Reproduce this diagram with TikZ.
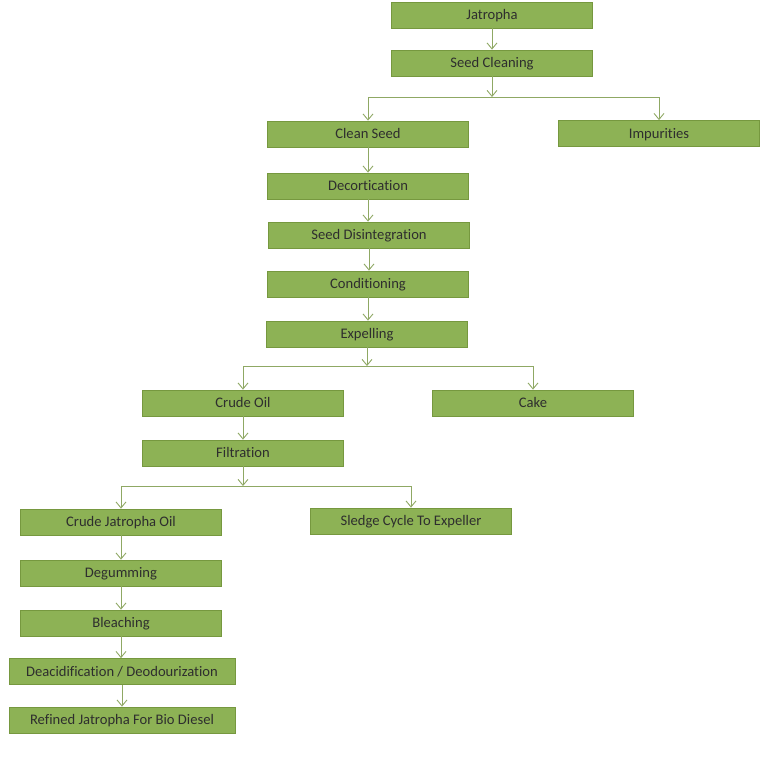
\documentclass[tikz,border=0pt]{standalone}
\usepackage{fontspec}
\setmainfont{Carlito}[Ligatures={NoCommon}]
\usetikzlibrary{arrows.meta}
\definecolor{boxfill}{HTML}{8DB255}
\definecolor{boxline}{HTML}{76983F}
\definecolor{linecol}{HTML}{8FA864}
\definecolor{txt}{HTML}{2E2E2E}
\begin{document}
\begin{tikzpicture}[x=1pt,y=-1pt,
  box/.style={draw=boxline, line width=0.8pt, fill=boxfill, text=txt, minimum height=26pt, inner sep=0pt, text height=11pt, text depth=1.6pt, font=\fontsize{14.6}{16}\selectfont},
  wbox/.style={box, minimum width=201pt},
  xbox/.style={box, minimum width=226pt},
  conn/.style={draw=linecol, line width=0.9pt},
  arr/.style={conn, -{Straight Barb[length=6pt,width=10pt]}}]
\useasboundingbox (0,0) rectangle (768,782);
\node[wbox] (jat) at (492,15) {Jatropha};
\node[wbox] (clean) at (492,63) {Seed Cleaning};
\node[wbox] (cseed) at (368,134) {Clean Seed};
\node[wbox] (imp) at (659,133.5) {Impurities};
\node[wbox] (deco) at (368,186) {Decortication};
\node[wbox] (dis) at (369,235) {Seed Disintegration};
\node[wbox] (cond) at (368,284) {Conditioning};
\node[wbox] (exp) at (367,334) {Expelling};
\node[wbox] (crude) at (243,403) {Crude Oil};
\node[wbox] (cake) at (533,403) {Cake};
\node[wbox] (filt) at (243,453) {Filtration};
\node[wbox] (cjo) at (121,522) {Crude Jatropha Oil};
\node[wbox] (sledge) at (411,521) {Sledge Cycle To Expeller};
\node[wbox] (degum) at (121,573) {Degumming};
\node[wbox] (bleach) at (121,623) {Bleaching};
\node[xbox] (deac) at (122,671.5) {Deacidification / Deodourization};
\node[xbox] (ref) at (122,720) {Refined Jatropha For Bio Diesel};
% junctions
\coordinate (j1) at (492,97);
\coordinate (j1l) at (368,97);
\coordinate (j1r) at (659,97);
\coordinate (j2) at (367,366);
\coordinate (j2l) at (243,366);
\coordinate (j2r) at (533,366);
\coordinate (j3) at (243,486);
\coordinate (j3l) at (121,486);
\coordinate (j3r) at (411,486);
% connectors
\draw[arr] (jat) -- (clean);
\draw[arr] (clean) -- (j1);
\draw[conn] (j1l) -- (j1r);
\draw[arr] (j1l) -- (cseed);
\draw[arr] (j1r) -- (imp);
\draw[arr] (cseed) -- (deco);
\draw[arr] (deco.south) -- (deco.south |- dis.north);
\draw[arr] (dis.south) -- (dis.south |- cond.north);
\draw[arr] (cond.south) -- (cond.south |- exp.north);
\draw[arr] (exp) -- (j2);
\draw[conn] (j2l) -- (j2r);
\draw[arr] (j2l) -- (crude);
\draw[arr] (j2r) -- (cake);
\draw[arr] (crude) -- (filt);
\draw[arr] (filt) -- (j3);
\draw[conn] (j3l) -- (j3r);
\draw[arr] (j3l) -- (cjo);
\draw[arr] (j3r) -- (sledge);
\draw[arr] (cjo) -- (degum);
\draw[arr] (degum) -- (bleach);
\draw[arr] (bleach.south) -- (bleach.south |- deac.north);
\draw[arr] (deac) -- (ref);
\end{tikzpicture}
\end{document}
